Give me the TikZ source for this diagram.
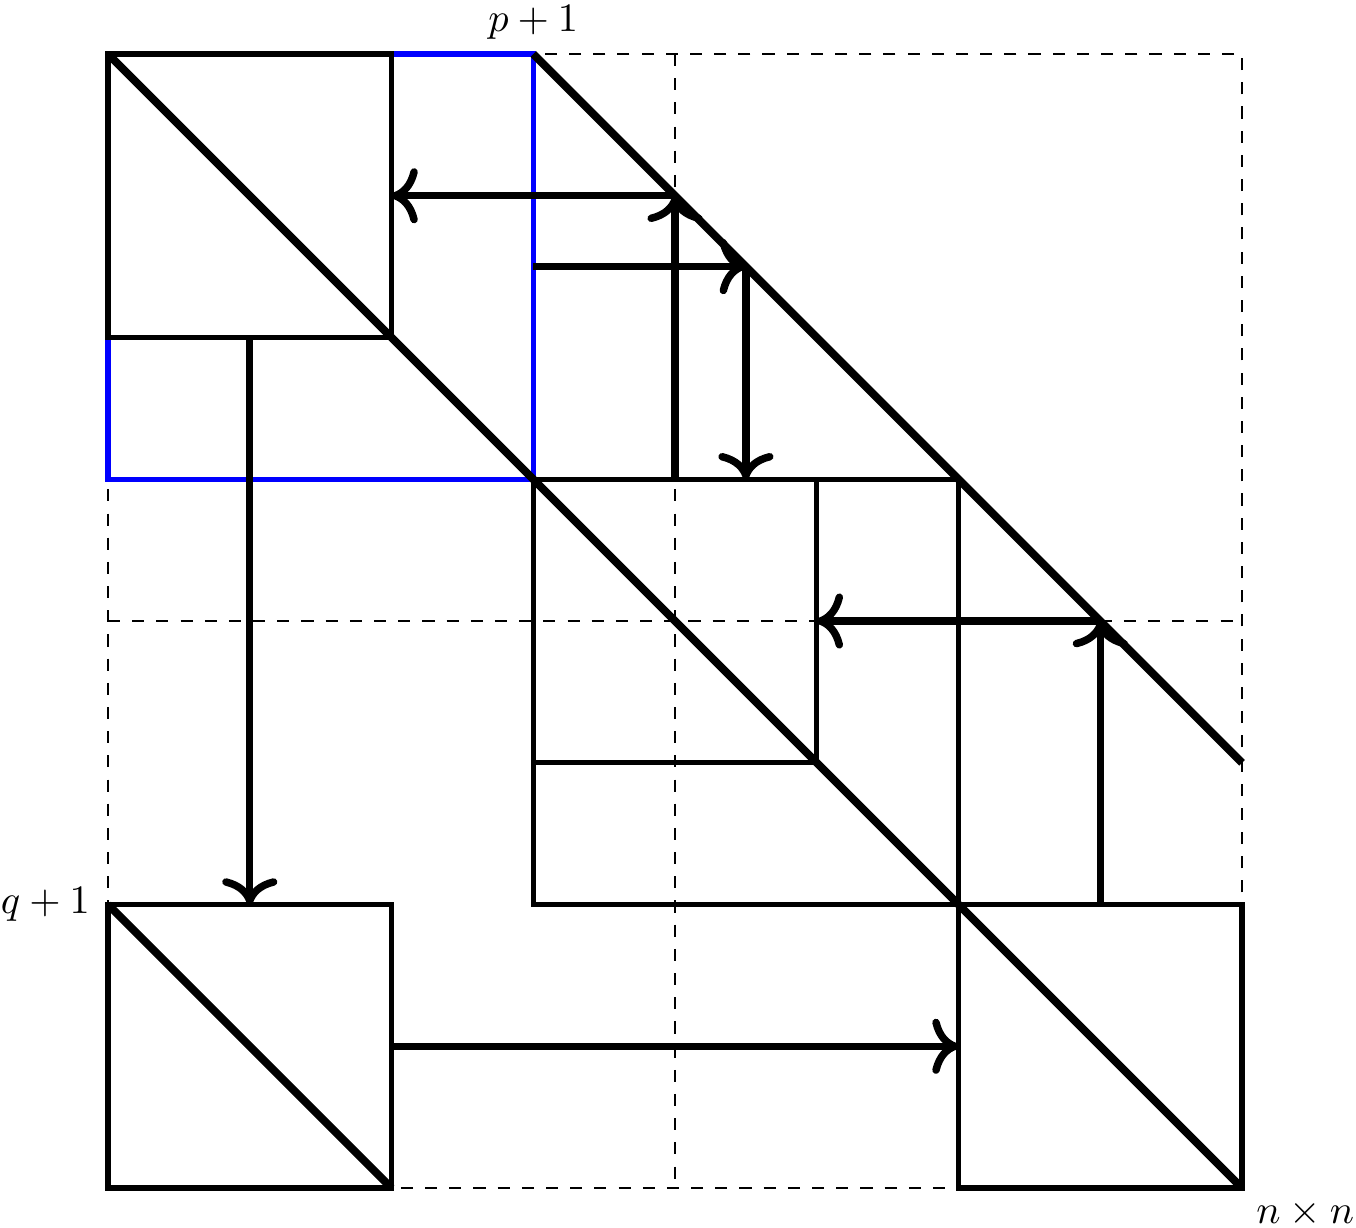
\documentclass[tikz,border=0pt]{standalone}
\usetikzlibrary{arrows.meta}
\begin{document}
\begin{tikzpicture}[x=1.236cm,y=-1.236cm,
  gridline/.style={dashed,line width=0.45pt},
  box/.style={line width=1.3pt},
  bluebox/.style={line width=1.3pt,draw=blue},
  diag/.style={line width=2pt},
  arr/.style={line width=1.85pt,-{To[scale=1.15]}}]
\useasboundingbox (-0.762,-0.381) rectangle (8.804,8.275);
% dashed grid
\draw[gridline] (0,0) rectangle (8,8);
\draw[gridline] (4,0) -- (4,8);
\draw[gridline] (0,4) -- (8,4);
% blue outline
\draw[bluebox] (2,0) -- (3,0) -- (3,3) -- (0,3) -- (0,2);
% boxes
\draw[box] (0,0) rectangle (2,2);
\draw[box] (3,3) rectangle (6,6);
\draw[box] (5,3) -- (5,5) -- (3,5);
\draw[box] (6,6) rectangle (8,8);
\draw[box] (0,6) rectangle (2,8);
% diagonals
\draw[diag] (0,0) -- (8,8);
\draw[diag] (3,0) -- (8,5);
\draw[diag] (0,6) -- (2,8);
% arrow end points
\coordinate (a1) at (4,3);
\coordinate (a2) at (4,1);
\coordinate (a3) at (2,1);
\coordinate (b1) at (3,1.5);
\coordinate (b2) at (4.5,1.5);
\coordinate (b3) at (4.5,3);
\coordinate (c1) at (1,2);
\coordinate (c2) at (1,6);
\coordinate (d1) at (2,7);
\coordinate (d2) at (6,7);
\coordinate (e1) at (7,6);
\coordinate (e2) at (7,4);
\coordinate (e3) at (5,4);
% arrows
\draw[arr] (a1) -- (a2);
\draw[arr] (a2) -- (a3);
\draw[arr] (b1) -- (b2);
\draw[arr] (b2) -- (b3);
\draw[arr] (c1) -- (c2);
\draw[arr] (d1) -- (d2);
\draw[arr] (e1) -- (e2);
\draw[arr] (e2) -- (e3);
% labels
\node[above] (lp) at (3,0) {$p+1$};
\node[left,xshift=-1pt] (lq) at (0,6) {$q+1$};
\node[below right,yshift=0.5pt] (ln) at (8,8) {$n\times n$};
\end{tikzpicture}
\end{document}
